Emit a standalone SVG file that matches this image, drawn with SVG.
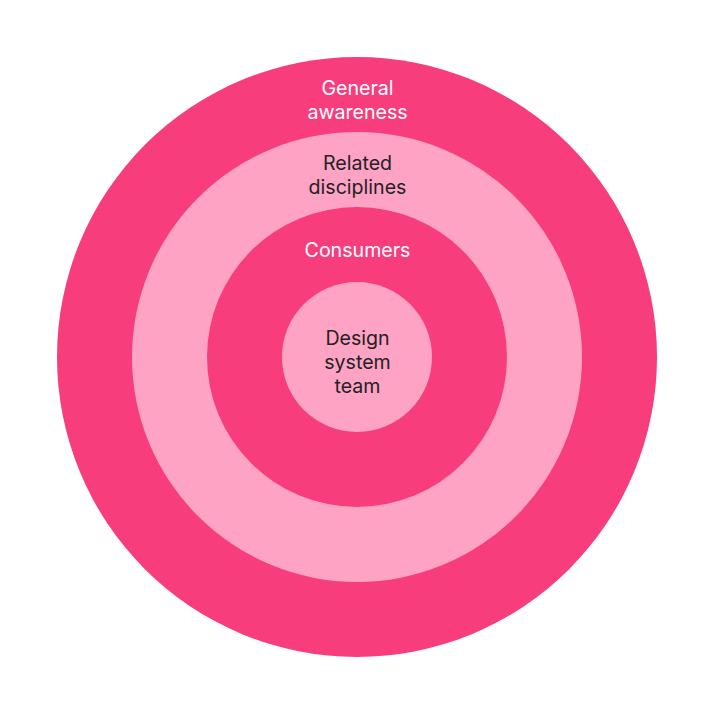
<svg xmlns="http://www.w3.org/2000/svg" width="714" height="714" viewBox="0 0 714 714">
<style>
.dark{fill:#F73D7C}
.light{fill:#FFA3C4}
text{font-family:Inter,"Noto Sans",sans-serif;font-size:19.6px;text-anchor:middle;dominant-baseline:central}
.w{fill:#FFFFFF}
.k{fill:#222222}
</style>
<rect width="714" height="714" fill="#FFFFFF"/>
<g id="general-awareness">
<circle class="dark" cx="357" cy="357" r="300"/>
<text class="w" x="357.5" y="88">General</text>
<text class="w" x="357.5" y="112">awareness</text>
</g>
<g id="related-disciplines">
<circle class="light" cx="357" cy="357" r="225"/>
<text class="k" x="357.5" y="163">Related</text>
<text class="k" x="357.5" y="187">disciplines</text>
</g>
<g id="consumers">
<circle class="dark" cx="357" cy="357" r="150"/>
<text class="w" x="357.5" y="250">Consumers</text>
</g>
<g id="design-system-team">
<circle class="light" cx="357" cy="357" r="75"/>
<text class="k" x="357.5" y="338">Design</text>
<text class="k" x="357.5" y="362">system</text>
<text class="k" x="357.5" y="386">team</text>
</g>
<g id="connectors"/>
</svg>
